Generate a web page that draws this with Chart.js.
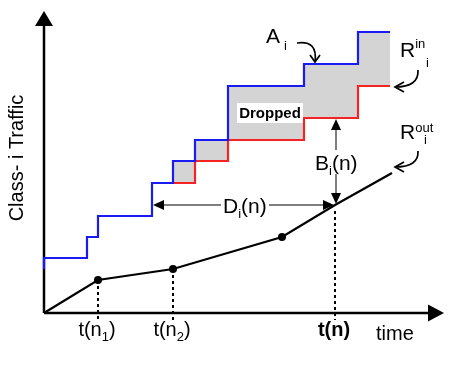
<!DOCTYPE html>
<html><head><meta charset="utf-8">
<script src="https://cdn.jsdelivr.net/npm/chart.js@4/dist/chart.umd.min.js"></script>
<style>html,body{margin:0;padding:0;background:#fff}#wrap{width:474px;height:367px;position:relative}</style>
</head><body><div id="wrap"><canvas id="c"></canvas></div>
<script>
// Arrival curve A_i (blue, stepped)
const arrivalTime    = [0, 0, 4.3, 5.4, 10.8, 12.9, 15.1, 18.4, 26.0, 31.4, 34.6];
const arrivalTraffic = [4.4, 5.5, 7.6, 9.7, 13.0, 15.2, 17.3, 22.7, 24.9, 28.1, 28.1];
// Admitted input curve R_i^in (red, stepped)
const inputTime    = [12.9, 15.1, 18.4, 26.0, 31.4, 34.6];
const inputTraffic = [13.0, 15.2, 17.3, 19.5, 22.7, 22.7];
// Output curve R_i^out (black)
const outputTime    = [0, 5.4, 12.9, 23.8, 29.1, 34.8];
const outputTraffic = [0, 3.3, 4.4, 7.6, 10.8, 14.0];
const outputMarked  = [false, true, true, true, false, false];
// Time axis ticks
const tickTimes  = [5.4, 12.9, 29.1];
const tickLabels = [["t(n", "1", ")"], ["t(n", "2", ")"], ["t(n)", "", ""]];
const tickBold   = [false, false, true];
const tnOutputIndex = 4;   // index of t(n) in the output curve
const delayStartTime = 10.8; // time at which A_i reached R_out(t(n))
const xMax = 40, yMax = 30.2;

const FONT = '"Liberation Sans", Arial, Helvetica, sans-serif';
const pts = (xs, ys) => xs.map((x, i) => ({x: x, y: ys[i]}));
const fillUpper = pts(arrivalTime, arrivalTraffic).filter(p => p.x >= inputTime[0] && p.y > inputTraffic[0]);

function font(size, bold) { return (bold ? 'bold ' : '') + size + 'px ' + FONT; }
function richWidth(ctx, parts) {
  let w = 0;
  for (const p of parts) { ctx.font = font(p.size, p.bold); w += ctx.measureText(p.t).width + (p.gap || 0); }
  return w;
}
function drawRich(ctx, parts, x, y, align) {
  const w = richWidth(ctx, parts);
  let cx = align === 'center' ? x - w / 2 : x;
  ctx.textAlign = 'left'; ctx.textBaseline = 'alphabetic';
  for (const p of parts) {
    ctx.font = font(p.size, p.bold);
    ctx.fillText(p.t, cx + (p.dx || 0), y + (p.dy || 0));
    cx += ctx.measureText(p.t).width + (p.gap || 0);
  }
  return w;
}
function solidHead(ctx, tx, ty, dx, dy, len, half) {
  ctx.beginPath();
  ctx.moveTo(tx, ty);
  ctx.lineTo(tx - dx * len - dy * half, ty - dy * len + dx * half);
  ctx.lineTo(tx - dx * len + dy * half, ty - dy * len - dx * half);
  ctx.closePath(); ctx.fill();
}
function curvedArrow(ctx, sx, sy, cx, cy, tx, ty, h1x, h1y, h2x, h2y) {
  ctx.beginPath(); ctx.moveTo(sx, sy); ctx.quadraticCurveTo(cx, cy, tx, ty); ctx.stroke();
  ctx.beginPath(); ctx.moveTo(h1x, h1y); ctx.lineTo(tx, ty); ctx.lineTo(h2x, h2y); ctx.stroke();
}

const diagramPlugin = {
  id: 'diagram',
  beforeDatasetsDraw(chart) {
    const ctx = chart.ctx, xs = chart.scales.x, ys = chart.scales.y;
    const a = chart.chartArea;
    const x0 = xs.getPixelForValue(0), y0 = ys.getPixelForValue(0);
    ctx.save();
    // dotted drop lines / ticks
    ctx.strokeStyle = '#000'; ctx.lineWidth = 2; ctx.setLineDash([3, 3]);
    tickTimes.forEach((t, i) => {
      const idx = outputTime.indexOf(t);
      let top = ys.getPixelForValue(outputTraffic[idx]);
      if (i === tickTimes.length - 1) top += 6;
      const px = xs.getPixelForValue(t);
      ctx.beginPath(); ctx.moveTo(px, top); ctx.lineTo(px, y0 + 7); ctx.stroke();
    });
    ctx.setLineDash([]);
    // axes
    ctx.lineWidth = 2.5; ctx.fillStyle = '#000';
    ctx.beginPath(); ctx.moveTo(x0, y0); ctx.lineTo(x0, a.top + 12); ctx.stroke();
    solidHead(ctx, x0, a.top, 0, -1, 15, 9);
    ctx.beginPath(); ctx.moveTo(x0, y0); ctx.lineTo(a.right - 14, y0); ctx.stroke();
    solidHead(ctx, a.right, y0, 1, 0, 16, 8.5);
    ctx.restore();
  },
  afterDatasetsDraw(chart) {
    const ctx = chart.ctx, xs = chart.scales.x, ys = chart.scales.y;
    const y0 = ys.getPixelForValue(0);
    ctx.save();
    ctx.fillStyle = '#000'; ctx.strokeStyle = '#000';
    // tick labels
    tickTimes.forEach((t, i) => {
      const L = tickLabels[i], b = tickBold[i];
      const parts = [{t: L[0], size: 20, bold: b}];
      if (L[1]) parts.push({t: L[1], size: 13, dy: 5});
      if (L[2]) parts.push({t: L[2], size: 20});
      drawRich(ctx, parts, xs.getPixelForValue(t) - 1, y0 + 23, 'center');
    });
    ctx.font = font(20); ctx.textAlign = 'left';
    ctx.fillText('time', 376, y0 + 27);
    // y-axis title
    ctx.save(); ctx.translate(23, 158); ctx.rotate(-Math.PI / 2);
    ctx.font = font(20); ctx.textAlign = 'center'; ctx.textBaseline = 'alphabetic';
    ctx.fillText('Class- i Traffic', 0, 0);
    ctx.restore();

    // Dropped box
    ctx.fillStyle = '#fff'; ctx.fillRect(237, 103, 66, 20);
    ctx.fillStyle = '#000'; ctx.font = font(15, true); ctx.textAlign = 'center'; ctx.textBaseline = 'middle';
    ctx.fillText('Dropped', 270, 114);

    // D_i(n) horizontal arrow
    const tn = outputTime[tnOutputIndex];
    const xL = xs.getPixelForValue(delayStartTime), xR = xs.getPixelForValue(tn);
    const yD = ys.getPixelForValue(outputTraffic[tnOutputIndex]);
    ctx.strokeStyle = '#555'; ctx.lineWidth = 1.5;
    ctx.beginPath(); ctx.moveTo(xL + 8, yD); ctx.lineTo(xR - 8, yD); ctx.stroke();
    ctx.fillStyle = '#000';
    solidHead(ctx, xL + 1, yD, -1, 0, 11, 5);
    solidHead(ctx, xR - 1, yD, 1, 0, 11, 5);
    ctx.fillStyle = '#fff'; ctx.fillRect(221, yD - 10, 48, 18);
    ctx.fillStyle = '#000';
    drawRich(ctx, [{t: 'D', size: 21}, {t: 'i', size: 13, dy: 5}, {t: '(n)', size: 21}], 223, yD + 8, 'left');

    // B_i(n) vertical arrow
    const xB = xR + 1;
    const yTop = ys.getPixelForValue(inputTraffic[inputTime.indexOf(26.0)]);
    ctx.strokeStyle = '#555'; ctx.lineWidth = 1.5;
    ctx.beginPath(); ctx.moveTo(xB, yTop + 8); ctx.lineTo(xB, yD - 8); ctx.stroke();
    ctx.fillStyle = '#000';
    solidHead(ctx, xB, yTop + 1, 0, -1, 11, 5);
    solidHead(ctx, xB, yD - 1, 0, 1, 11, 5);
    ctx.fillStyle = '#fff'; ctx.fillRect(313, 150, 48, 24);
    ctx.fillStyle = '#000';
    drawRich(ctx, [{t: 'B', size: 21}, {t: 'i', size: 13, dy: 5}, {t: '(n)', size: 21}], 315, 170, 'left');

    // A_i label and arrow
    drawRich(ctx, [{t: 'A', size: 21, gap: 4}, {t: 'i', size: 13, dy: 7}], 266, 43, 'left');
    ctx.lineWidth = 1.7; ctx.strokeStyle = '#000';
    curvedArrow(ctx, 297, 43, 318, 40, 315, 62, 310, 55, 320, 55);

    // R_i^in label and arrow
    drawRich(ctx, [{t: 'R', size: 21}, {t: 'in', size: 13, dy: -9}], 400, 57, 'left');
    ctx.font = font(13); ctx.textAlign = 'left'; ctx.textBaseline = 'alphabetic';
    ctx.fillText('i', 426, 67);
    curvedArrow(ctx, 418, 70, 419, 87, 395, 87, 404, 82, 404, 92);

    // R_i^out label and arrow
    drawRich(ctx, [{t: 'R', size: 21}, {t: 'out', size: 13, dy: -7}], 400, 139, 'left');
    ctx.font = font(13); ctx.textAlign = 'left';
    ctx.fillText('i', 424, 144);
    curvedArrow(ctx, 418, 151, 419, 167, 395, 167, 404, 162, 404, 172);
    ctx.restore();
  }
};

new Chart(document.getElementById('c'), {
  type: 'line',
  data: {
    datasets: [
      {label: 'A_i', data: pts(arrivalTime, arrivalTraffic), stepped: true, borderColor: '#1a1af2', borderWidth: 2.2,
       pointRadius: 0, fill: false, clip: 6, borderJoinStyle: 'miter'},
      {label: 'R_in', data: pts(inputTime, inputTraffic), stepped: true, borderColor: '#f52323', borderWidth: 2.2,
       pointRadius: 0, fill: false, clip: 6, borderJoinStyle: 'miter'},
      {label: 'R_out', data: pts(outputTime, outputTraffic), borderColor: '#000', borderWidth: 2.2,
       pointRadius: outputMarked.map(m => m ? 4 : 0), pointBackgroundColor: '#000', pointBorderWidth: 0,
       fill: false, clip: 6},
      {label: 'Dropped', data: fillUpper, stepped: true, borderWidth: 0, borderColor: 'rgba(0,0,0,0)',
       pointRadius: 0, fill: 1, backgroundColor: '#d4d4d4', clip: 6}
    ]
  },
  options: {
    responsive: true, maintainAspectRatio: false, animation: false,
    layout: {padding: {left: 44, right: 30, top: 11, bottom: 54}},
    scales: {
      x: {type: 'linear', min: 0, max: xMax, display: false},
      y: {type: 'linear', min: 0, max: yMax, display: false}
    },
    plugins: {legend: {display: false}, tooltip: {enabled: false}}
  },
  plugins: [diagramPlugin]
});
</script>
</body></html>
